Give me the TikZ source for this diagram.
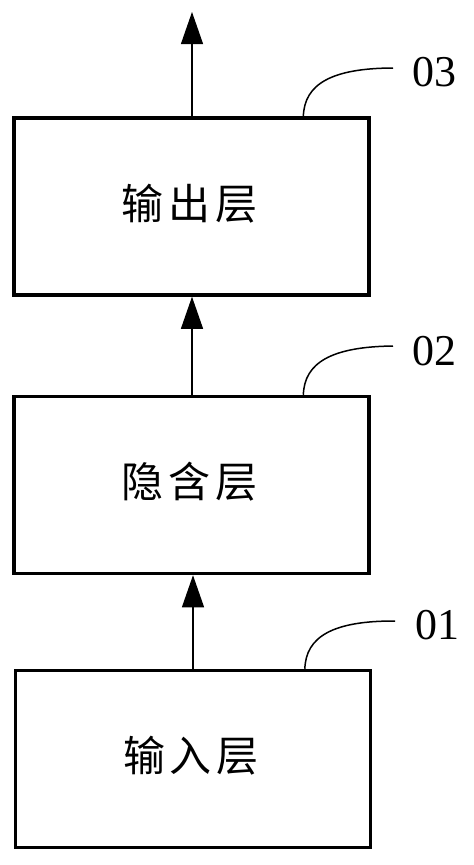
\documentclass[tikz,border=0pt]{standalone}
\usepackage{fontspec}
\setmainfont{Liberation Serif}
\newfontfamily\cjk{Noto Sans CJK SC}
\usetikzlibrary{arrows.meta,calc}
\tikzset{
  layerbox/.style={draw, line width=3.5pt, minimum width=355pt, minimum height=177pt, inner sep=0pt},
  layertext/.style={font=\cjk\fontsize{42}{50}\selectfont, inner sep=0pt},
  flow/.style={line width=1.1pt, -{Triangle[length=32pt,width=22pt]}},
  leader/.style={line width=1.5pt},
  reflabel/.style={inner sep=0pt, anchor=west, font=\fontsize{44}{52}\selectfont}
}
\newcommand{\cjs}{\hspace{5pt}}
\begin{document}
\begin{tikzpicture}[x=1pt,y=-1pt]
\useasboundingbox (0,0) rectangle (474,865);
\fill[white] (0,0) rectangle (474,865);
\node[layerbox] (b3) at (191.5,206.5) {};
\node[layerbox] (b2) at (191.5,485) {};
\node[layerbox] (b1) at (193,759) {};
\node[layertext] (t3) at ($(b3.center)+(-2,-3)$) {输\cjs 出\cjs 层};
\node[layertext] (t2) at ($(b2.center)+(-2,-3)$) {隐\cjs 含\cjs 层};
\node[layertext] (t1) at ($(b1.center)+(-2,-3)$) {输\cjs 入\cjs 层};
\coordinate (out) at (192,12);
\draw[flow] (b3.north -| out) -- (out);
\draw[flow] (b2.north -| out) -- (b3.south -| out);
\draw[flow] (b1.north) -- (b2.south -| b1.north);
\node[reflabel] (l3) at (412,72) {03};
\node[reflabel] (l2) at (412,351) {02};
\node[reflabel] (l1) at (415,625) {01};
\coordinate (s3) at ($(b3.north west)!0.812!(b3.north east)$);
\coordinate (s2) at ($(b2.north west)!0.812!(b2.north east)$);
\coordinate (s1) at ($(b1.north west)!0.812!(b1.north east)$);
\draw[leader] (s3) .. controls ($(s3)+(1,-32)$) and ($(s3)+(28,-48)$) .. ($(l3.west)+(-19,-4)$);
\draw[leader] (s2) .. controls ($(s2)+(1,-32)$) and ($(s2)+(28,-48)$) .. ($(l2.west)+(-19,-5)$);
\draw[leader] (s1) .. controls ($(s1)+(1,-32)$) and ($(s1)+(28,-48)$) .. ($(l1.west)+(-20,-4)$);
\end{tikzpicture}
\end{document}
